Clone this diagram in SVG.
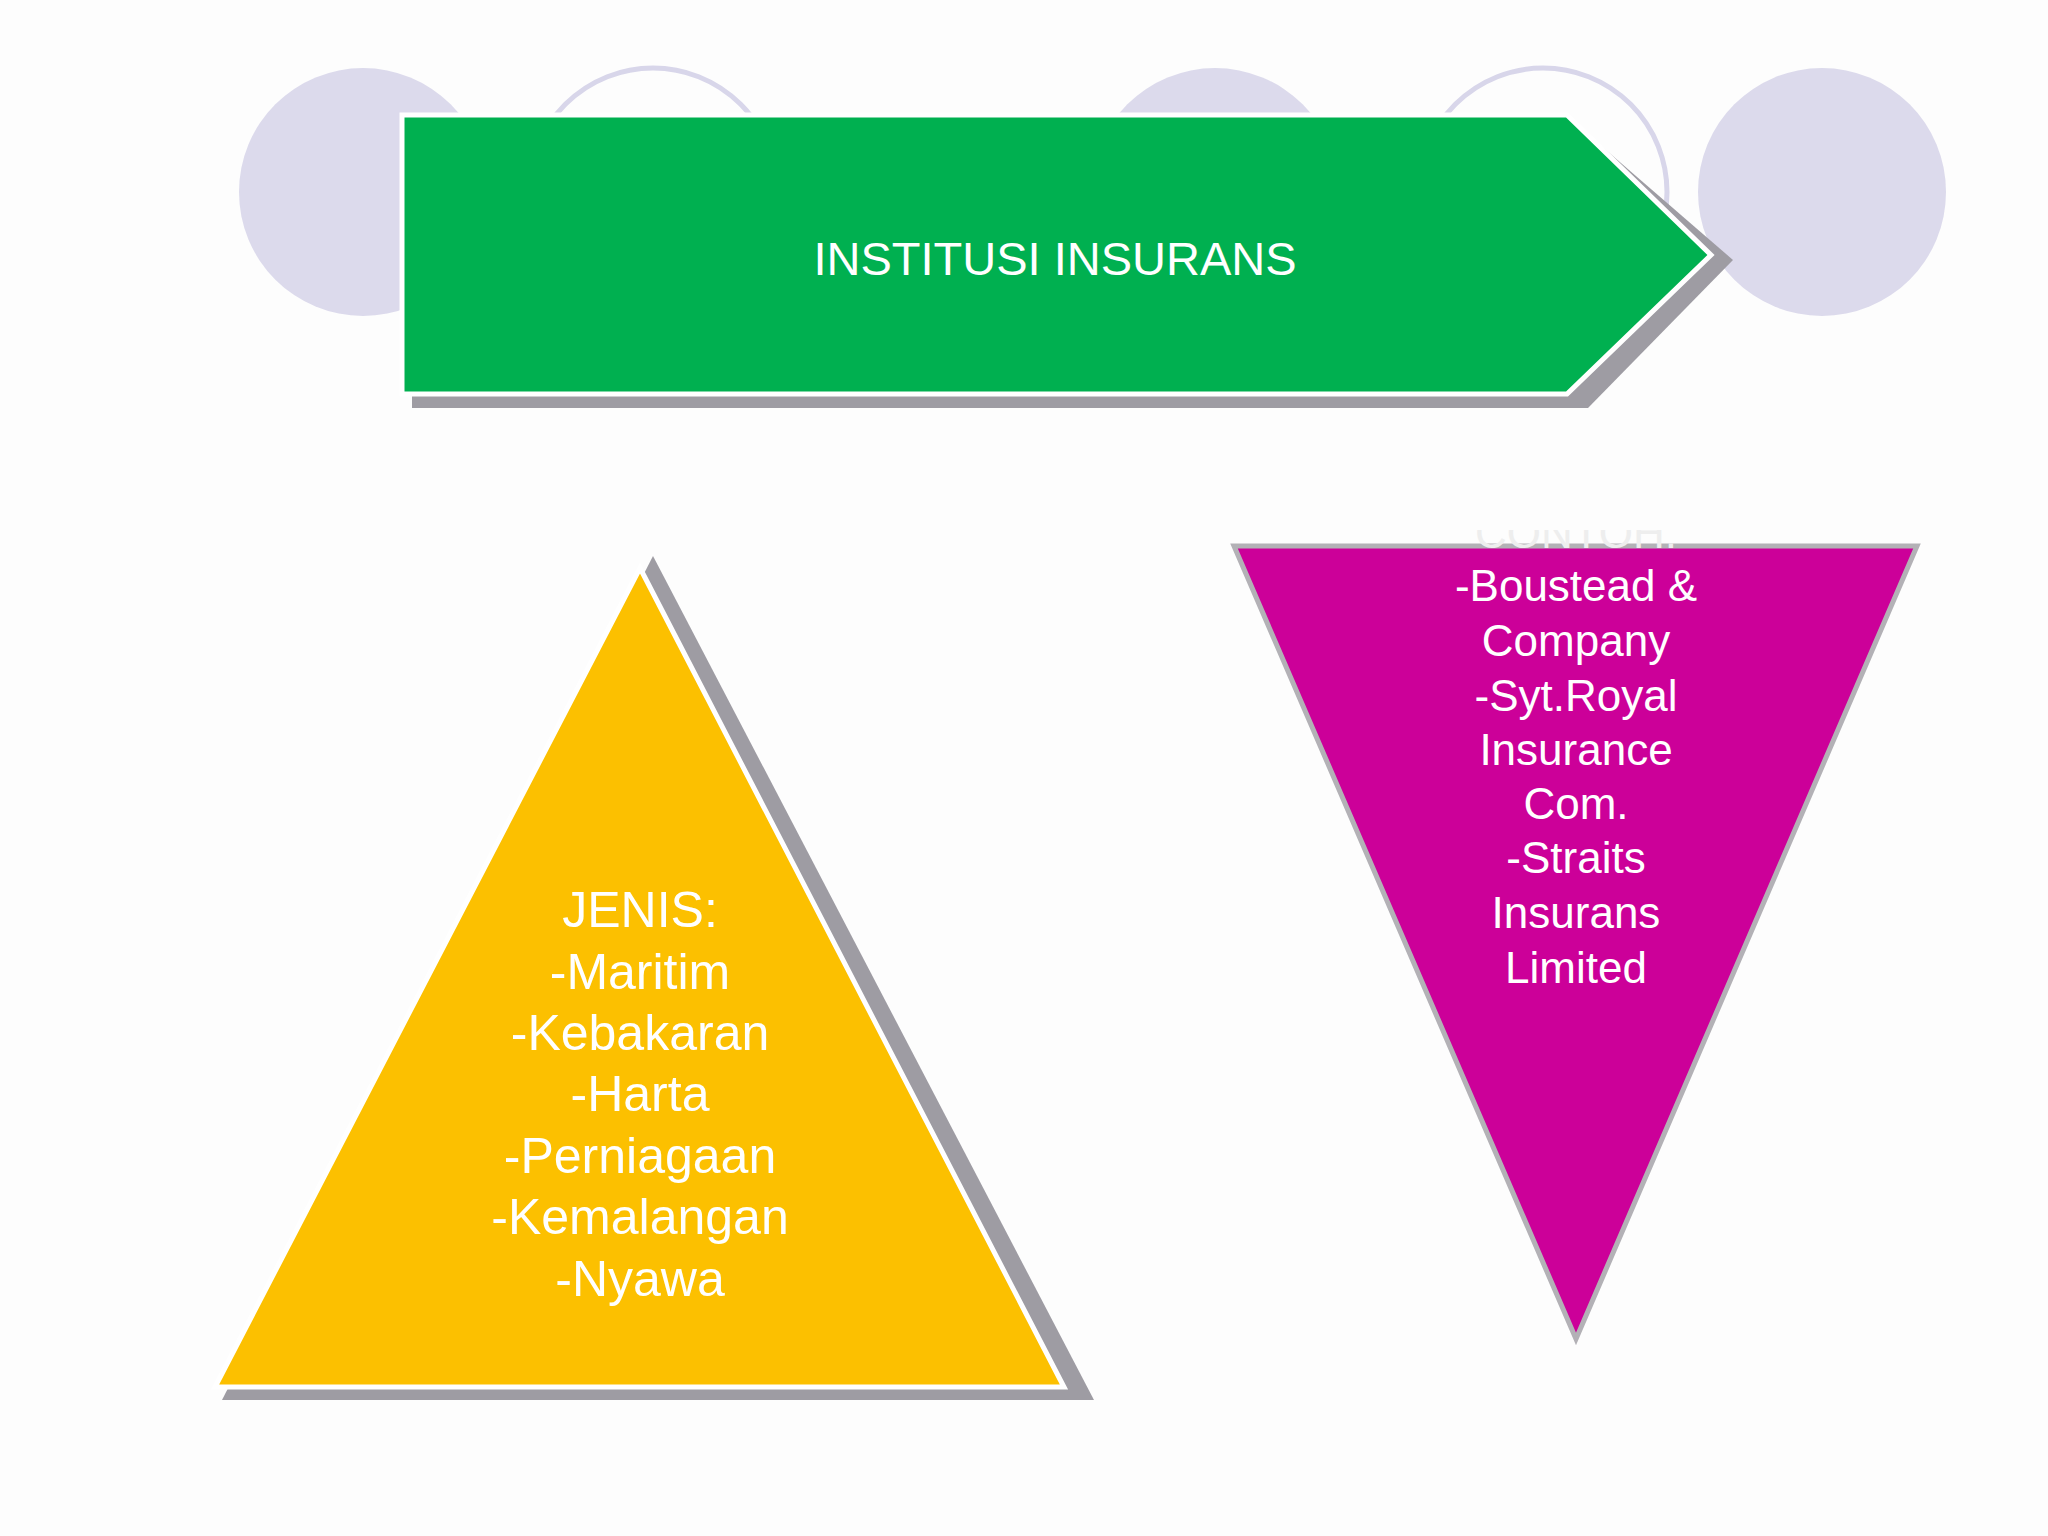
<svg xmlns="http://www.w3.org/2000/svg" width="2048" height="1536" viewBox="0 0 2048 1536">
<style>
.c{fill:#dcdaec}
.r{fill:none;stroke:#d8d6ea;stroke-width:5}
.t{font-family:"Liberation Sans",Arial,sans-serif;fill:#fff;text-anchor:middle}
.sh{fill:#9e9ca3}
</style>
<defs><clipPath id="cp"><rect x="1200" y="530" width="760" height="900"/></clipPath></defs>
<rect width="2048" height="1536" fill="#fdfdfd"/>
<g id="circles">
<circle class="c" cx="363" cy="192" r="124"/>
<circle class="r" cx="653" cy="192" r="124"/>
<circle class="c" cx="1215" cy="192" r="124"/>
<circle class="r" cx="1543" cy="192" r="124"/>
<circle class="c" cx="1822" cy="192" r="124"/>
</g>
<g id="title">
<polygon class="sh" points="412,125 1577,125 1733,260 1588,408 412,408"/>
<polygon points="402,115 1567,115 1711,255 1567,394 402,394" fill="#00b050" stroke="#fff" stroke-width="5"/>
<text class="t" x="1055" y="275" font-size="47">INSTITUSI INSURANS</text>
</g>
<g id="jenis">
<polygon class="sh" points="653,556 1094,1400 222,1400"/>
<polygon points="640,568 1064,1387 215,1387" fill="#fcc000" stroke="#fff" stroke-width="5"/>
<g class="t" font-size="50">
<text x="640" y="927">JENIS:</text>
<text x="640" y="989">-Maritim</text>
<text x="640" y="1050">-Kebakaran</text>
<text x="640" y="1111">-Harta</text>
<text x="640" y="1173">-Perniagaan</text>
<text x="640" y="1234">-Kemalangan</text>
<text x="640" y="1296">-Nyawa</text>
</g>
</g>
<g id="contoh">
<polygon points="1234,546 1917,546 1576,1339" fill="#cc0099" stroke="#b3b1b6" stroke-width="5"/>
<g class="t" font-size="44">
<text x="1576" y="548" clip-path="url(#cp)" fill="#eee">CONTOH:</text>
<text x="1576" y="601">-Boustead &amp;</text>
<text x="1576" y="656">Company</text>
<text x="1576" y="711">-Syt.Royal</text>
<text x="1576" y="765">Insurance</text>
<text x="1576" y="819">Com.</text>
<text x="1576" y="873">-Straits</text>
<text x="1576" y="928">Insurans</text>
<text x="1576" y="983">Limited</text>
</g>
</g>
<g id="connectors"/>
</svg>
